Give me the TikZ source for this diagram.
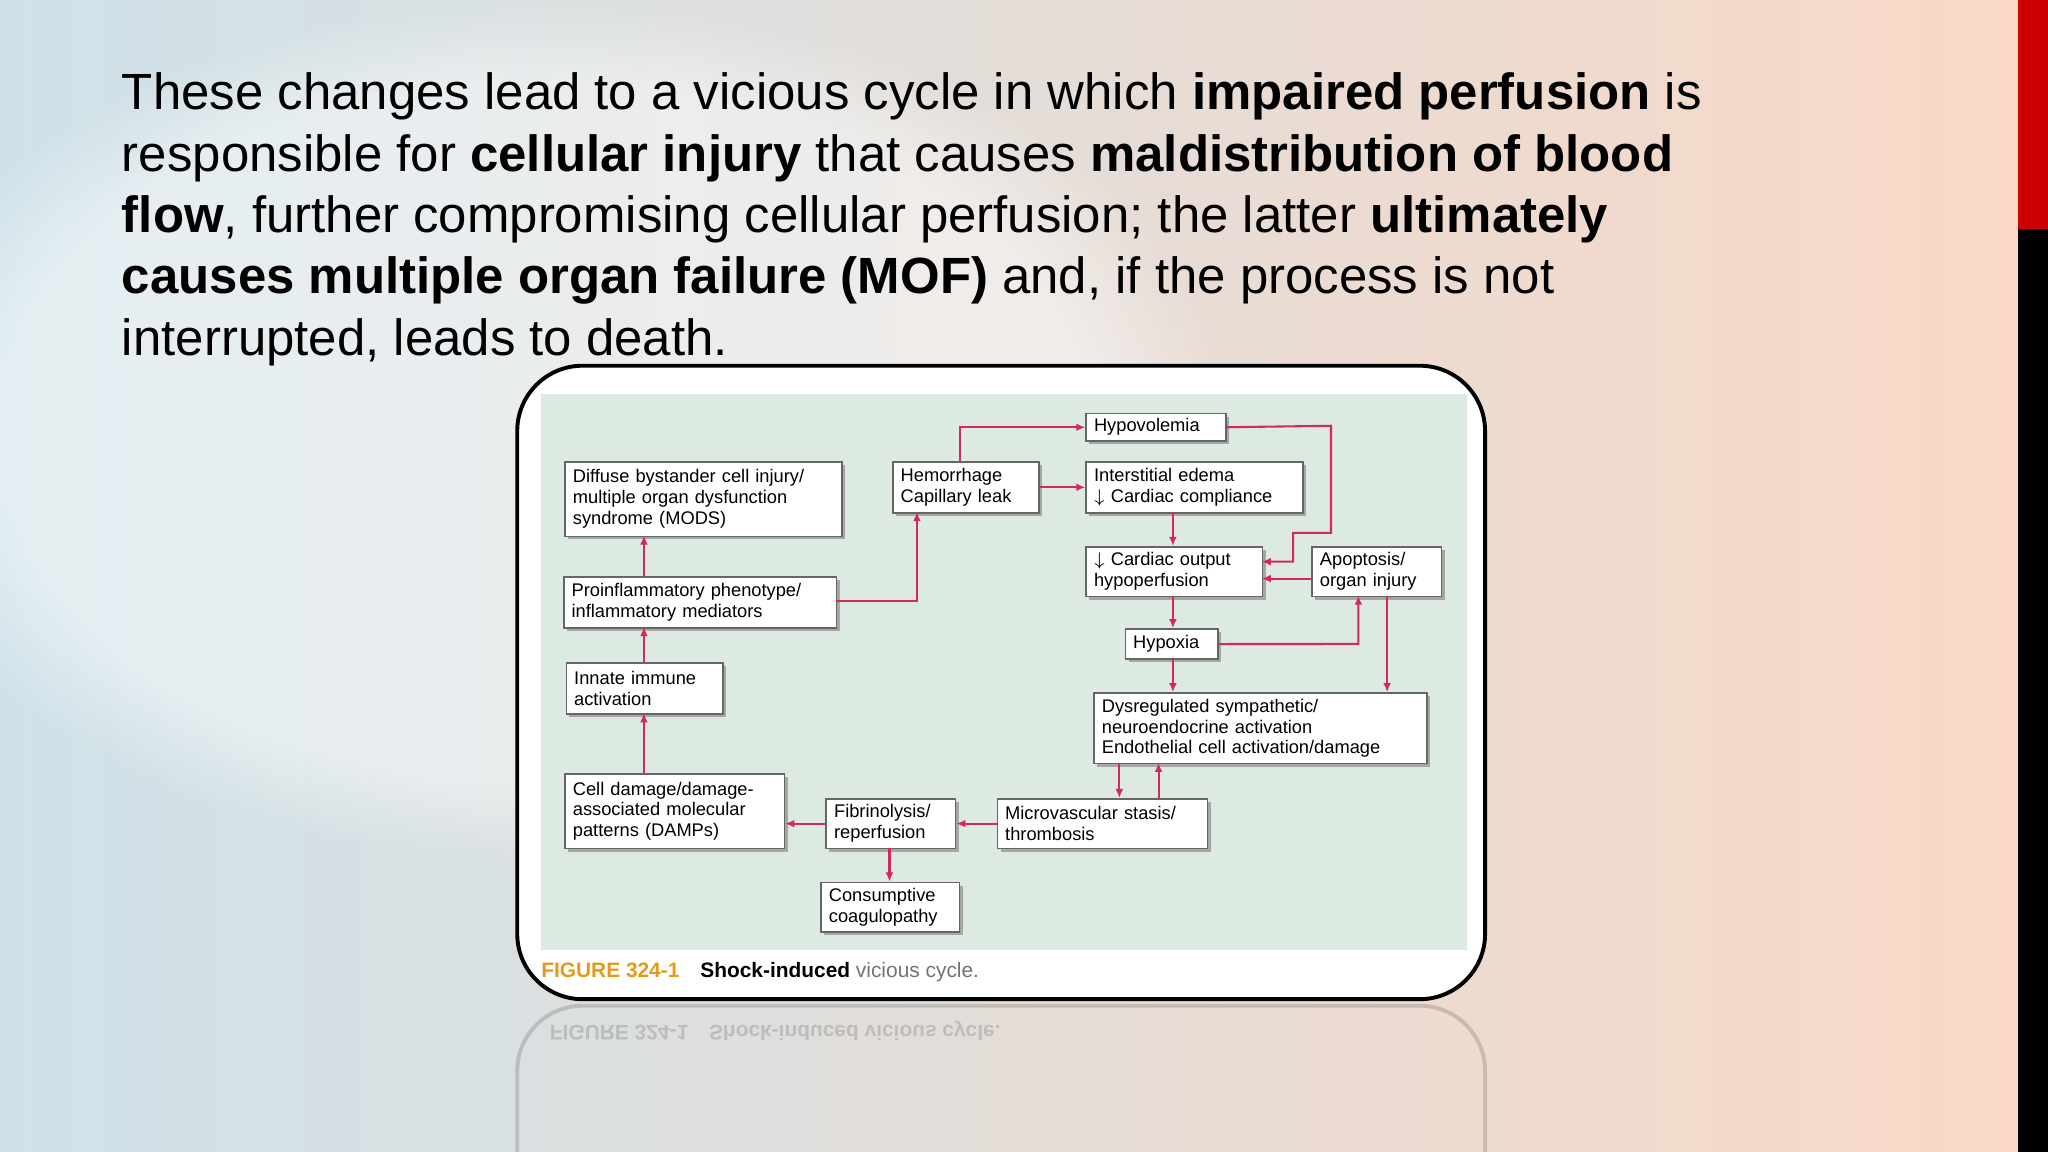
\documentclass[tikz,border=0pt]{standalone}
\usepackage{fontspec}
\setmainfont{Liberation Sans}
\usetikzlibrary{shadows,arrows.meta,calc,fadings}
\definecolor{arr}{HTML}{D42A5B}
\definecolor{panel}{HTML}{DCEAE2}
\definecolor{figc}{HTML}{E39A1E}
\definecolor{bgl}{HTML}{CFE2EA}
\definecolor{bgr}{HTML}{F9D8C6}
\tikzset{
 bx/.style={draw=black!60,line width=0.6pt,fill=white,anchor=north west,align=left,inner xsep=3pt,inner ysep=1pt,
   font=\fontsize{7}{8}\selectfont,drop shadow={shadow xshift=1.2pt,shadow yshift=-1.2pt,fill=black!35,opacity=1}},
 ar/.style={draw=arr,line width=0.8pt,-{Latex[length=3.5pt,width=3pt]}},
 hd/.style={anchor=base west,inner sep=0,font=\fontsize{19.5}{23}\selectfont}
}
\begin{document}
\begin{tikzpicture}[x=0.5pt,y=-0.5pt]
\useasboundingbox (0,0) rectangle (1568,882);
\shade[left color=bgl,right color=bgr] (0,0) rectangle (1545,882);
\fill[white,opacity=0.45,path fading=circle with fuzzy edge 20 percent] (420,330) ellipse (520 and 330);
\fill[red!80!black] (1545,0) rectangle (1568,175);
\fill[black] (1545,175) rectangle (1568,882);
% heading
\node[hd] (l1) at (93,84) {These changes lead to a vicious cycle in which \textbf{impaired perfusion} is};
\node[hd] (l2) at (93,131) {responsible for \textbf{cellular injury} that causes \textbf{maldistribution of blood}};
\node[hd] (l3) at (93,178) {\textbf{flow}, further compromising cellular perfusion; the latter \textbf{ultimately}};
\node[hd] (l4) at (93,225) {\textbf{causes multiple organ failure (MOF)} and, if the process is not};
\node[hd] (l5) at (93,272) {interrupted, leads to death.};
% reflection
\begin{scope}[opacity=0.15]
\draw[line width=1.5pt,rounded corners=25pt] (396,882) -- (396,770) -- (1137,770) -- (1137,882);
\node[anchor=west,font=\fontsize{8}{9}\selectfont\bfseries,yscale=-1] (rf) at (414,789) {FIGURE 324-1\quad Shock-induced vicious cycle.};
\end{scope}
% frame
\draw[line width=1.5pt,fill=white,rounded corners=25pt] (396,280) rectangle (1137,765);
\fill[panel] (414,302) rectangle (1123,727);
\node[anchor=west,inner sep=0,font=\fontsize{8}{9}\selectfont] (cap) at (414,744)
 {{\color{figc}\textbf{FIGURE 324-1}}\quad\textbf{Shock-induced} {\color{black!55}vicious cycle.}};
% nodes
\node[bx,text width=47.5pt,minimum height=10.5pt] (hypv) at (831,316) {Hypovolemia};
\node[bx,text width=100pt,minimum height=28.5pt] (diff) at (432,353) {Diffuse bystander cell injury/\\multiple organ dysfunction\\syndrome (MODS)};
\node[bx,text width=50pt,minimum height=19.5pt] (hem) at (683,353) {Hemorrhage\\Capillary leak};
\node[bx,text width=77pt,minimum height=19.5pt] (edema) at (831,353) {Interstitial edema\\$\downarrow$ Cardiac compliance};
\node[bx,text width=61.5pt,minimum height=19pt] (co) at (831,418) {$\downarrow$ Cardiac output\\hypoperfusion};
\node[bx,text width=43.5pt,minimum height=19pt] (apo) at (1004,418) {Apoptosis/\\organ injury};
\node[bx,text width=98.5pt,minimum height=19.5pt] (pro) at (431,441) {Proinflammatory phenotype/\\inflammatory mediators};
\node[bx,text width=29.5pt,minimum height=11.5pt] (hyp) at (861,481) {Hypoxia};
\node[bx,text width=54pt,minimum height=19.5pt] (inn) at (433,507) {Innate immune\\activation};
\node[bx,text width=121.5pt,minimum height=27pt] (dys) at (837,530) {Dysregulated sympathetic/\\neuroendocrine activation\\Endothelial cell activation/damage};
\node[bx,text width=78pt,minimum height=28.5pt] (cell) at (432,592) {Cell damage/damage-\\associated molecular\\patterns (DAMPs)};
\node[bx,text width=43.5pt,minimum height=19pt] (fib) at (632,611) {Fibrinolysis/\\reperfusion};
\node[bx,text width=74.5pt,minimum height=19pt] (mic) at (763,611) {Microvascular stasis/\\thrombosis};
\node[bx,text width=47pt,minimum height=19pt] (cons) at (628,675) {Consumptive\\coagulopathy};
% connectors
\draw[ar] (735,353) |- (hypv.west);
\draw[ar] (hem.east) -- (hem.east -| edema.west);
\draw[ar] (hypv.east) -- (1019,326) -- (1019,408) -- (990,408) -- (990,430) -- (966,430);
\draw[ar] (apo.west |- 0,443) -- (966,443);
\draw[ar] (898,392) -- (898,418);
\draw[ar] (898,456) -- (898,481);
\draw[ar] (hyp.east) -- (1040,493) -- (1040,456);
\draw[ar] (1062,456) -- (1062,530);
\draw[ar] (898,504) -- (898,530);
\draw[ar] (857,584) -- (857,611);
\draw[ar] (887,611) -- (887,584);
\draw[ar] (mic.west) -- (fib.east);
\draw[ar] (fib.west) -- (cell.east |- fib.west);
\draw[ar] (681,649) -- (681,675);
\draw[ar] (493,592) -- (493,546);
\draw[ar] (493,507) -- (493,480);
\draw[ar] (493,441) -- (493,410);
\draw[ar] (640,460) -- (702,460) -- (702,392);
\end{tikzpicture}
\end{document}
